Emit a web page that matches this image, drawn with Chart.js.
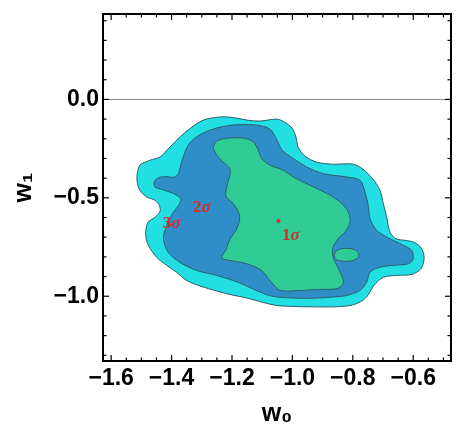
<!DOCTYPE html>
<html>
<head>
<meta charset="utf-8">
<script src="https://cdn.jsdelivr.net/npm/chart.js@4.4.1/dist/chart.umd.min.js"></script>
<style>
  html, body { margin: 0; padding: 0; background: #fff; }
  canvas { display: block; }
</style>
</head>
<body>
<canvas id="contourChart" width="474" height="446"></canvas>
<script>
// tick values
const xMajor = [-1.6, -1.4, -1.2, -1.0, -0.8, -0.6];
const xMinor = [-1.55, -1.5, -1.45, -1.35, -1.3, -1.25, -1.15, -1.1, -1.05, -0.95, -0.9, -0.85, -0.75, -0.7, -0.65, -0.55, -0.5];
const yMajor = [-1.0, -0.5, 0.0];
const yMinor = [-1.3, -1.2, -1.1, -0.9, -0.8, -0.7, -0.6, -0.4, -0.3, -0.2, -0.1, 0.1, 0.2, 0.3, 0.4];

// contour outlines, [w0, w1]
const sigma3Contour = [
  [-1.514,-0.377],[-1.505,-0.334],[-1.472,-0.309],[-1.438,-0.292],[-1.405,-0.241],[-1.372,-0.190],
  [-1.339,-0.148],[-1.295,-0.105],[-1.240,-0.089],[-1.196,-0.092],[-1.151,-0.105],[-1.107,-0.110],
  [-1.052,-0.100],[-1.025,-0.116],[-1.001,-0.146],[-0.988,-0.192],[-0.981,-0.243],[-0.958,-0.289],
  [-0.919,-0.319],[-0.866,-0.329],[-0.799,-0.329],[-0.766,-0.355],[-0.733,-0.406],[-0.710,-0.462],
  [-0.699,-0.529],[-0.688,-0.597],[-0.677,-0.675],[-0.657,-0.708],[-0.627,-0.716],[-0.597,-0.726],
  [-0.572,-0.758],[-0.564,-0.808],[-0.574,-0.859],[-0.604,-0.889],[-0.654,-0.894],[-0.699,-0.904],
  [-0.730,-0.945],[-0.753,-1.001],[-0.776,-1.029],[-0.809,-1.047],[-0.865,-1.054],[-0.931,-1.054],
  [-0.997,-1.052],[-1.052,-1.047],[-1.096,-1.032],[-1.151,-1.009],[-1.207,-0.991],[-1.251,-0.973],
  [-1.306,-0.948],[-1.350,-0.920],[-1.383,-0.879],[-1.416,-0.843],[-1.449,-0.803],[-1.477,-0.741],
  [-1.486,-0.682],[-1.478,-0.624],[-1.455,-0.599],[-1.438,-0.568],[-1.442,-0.533],[-1.458,-0.510],
  [-1.482,-0.496],[-1.505,-0.462],[-1.514,-0.419]
];
const sigma2Contour = [
  [-1.458,-0.431],[-1.455,-0.411],[-1.438,-0.395],[-1.415,-0.393],[-1.392,-0.395],[-1.378,-0.377],
  [-1.367,-0.318],[-1.345,-0.233],[-1.317,-0.190],[-1.273,-0.156],[-1.223,-0.136],[-1.174,-0.128],
  [-1.118,-0.131],[-1.074,-0.151],[-1.051,-0.207],[-1.034,-0.258],[-0.997,-0.300],[-0.953,-0.343],
  [-0.898,-0.377],[-0.820,-0.394],[-0.776,-0.411],[-0.760,-0.470],[-0.749,-0.538],[-0.743,-0.606],
  [-0.721,-0.665],[-0.688,-0.699],[-0.633,-0.741],[-0.605,-0.767],[-0.600,-0.809],[-0.616,-0.835],
  [-0.666,-0.843],[-0.710,-0.852],[-0.743,-0.877],[-0.754,-0.928],[-0.776,-0.970],[-0.820,-0.996],
  [-0.876,-1.005],[-0.931,-1.010],[-0.997,-1.009],[-1.064,-1.001],[-1.107,-0.979],[-1.151,-0.948],
  [-1.196,-0.920],[-1.251,-0.894],[-1.317,-0.869],[-1.372,-0.828],[-1.411,-0.777],[-1.427,-0.707],
  [-1.416,-0.640],[-1.399,-0.584],[-1.379,-0.543],[-1.369,-0.507],[-1.389,-0.482],[-1.428,-0.459],
  [-1.455,-0.446]
];
const sigma1Contour = [
  [-1.262,-0.249],[-1.256,-0.219],[-1.234,-0.202],[-1.196,-0.195],[-1.157,-0.198],[-1.129,-0.216],
  [-1.113,-0.258],[-1.102,-0.300],[-1.074,-0.334],[-1.030,-0.360],[-0.997,-0.394],[-0.942,-0.436],
  [-0.886,-0.478],[-0.842,-0.521],[-0.815,-0.572],[-0.809,-0.623],[-0.826,-0.674],[-0.848,-0.707],
  [-0.865,-0.750],[-0.867,-0.792],[-0.859,-0.826],[-0.842,-0.877],[-0.831,-0.928],[-0.848,-0.959],
  [-0.886,-0.965],[-0.931,-0.967],[-0.986,-0.972],[-1.041,-0.970],[-1.069,-0.930],[-1.102,-0.869],
  [-1.151,-0.835],[-1.207,-0.818],[-1.234,-0.806],[-1.218,-0.758],[-1.213,-0.731],[-1.203,-0.701],
  [-1.187,-0.665],[-1.175,-0.614],[-1.178,-0.574],[-1.197,-0.528],[-1.220,-0.492],[-1.216,-0.436],
  [-1.207,-0.385],[-1.207,-0.351],[-1.229,-0.318],[-1.251,-0.283]
];
const sigma1Island = [
  [-0.862,-0.792],[-0.856,-0.772],[-0.839,-0.759],[-0.816,-0.757],[-0.796,-0.762],[-0.783,-0.777],
  [-0.781,-0.797],[-0.793,-0.815],[-0.816,-0.823],[-0.839,-0.820],[-0.856,-0.813]
];

const bestFit = [-1.046, -0.618];

const sigmaLabels = ['1', '2', '3'];
const sigmaLabelX = [-1.005, -1.300, -1.400];
const sigmaLabelY = [-0.690, -0.551, -0.631];

const red = '#d42a2a';
const edge = '#2d5e6c';

// closed loop for fill:'shape'
function loop(pts) {
  const out = pts.map(p => ({ x: p[0], y: p[1] }));
  out.push({ x: pts[0][0], y: pts[0][1] });
  return out;
}

function region(label, pts, color, order) {
  return {
    type: 'line',
    label: label,
    data: loop(pts),
    backgroundColor: color,
    borderColor: edge,
    borderWidth: 1,
    fill: 'shape',
    tension: 0.3,
    pointRadius: 0,
    order: order
  };
}

const fmt = v => v.toFixed(1).replace('-', '\u2212');

function drawSigmaLabels(ctx, x, y) {
  ctx.fillStyle = red;
  ctx.textBaseline = 'middle';
  ctx.textAlign = 'left';
  const upright = 'bold 17px "Liberation Serif", "Times New Roman", serif';
  const slanted = 'italic bold 17px "Liberation Serif", "Times New Roman", serif';
  sigmaLabels.forEach((d, i) => {
    const px = x.getPixelForValue(sigmaLabelX[i]);
    const py = y.getPixelForValue(sigmaLabelY[i]);
    ctx.font = upright;
    const w1 = ctx.measureText(d).width;
    ctx.font = slanted;
    const w2 = ctx.measureText('\u03c3').width;
    const left = px - (w1 + w2) / 2;
    ctx.font = upright;
    ctx.fillText(d, left, py);
    ctx.font = slanted;
    ctx.fillText('\u03c3', left + w1, py);
  });
}

function drawFrame(ctx, a, x, y) {
  ctx.fillStyle = '#000';
  // inward ticks on all four sides
  xMajor.forEach(v => {
    const p = x.getPixelForValue(v);
    ctx.fillRect(p - 0.6, a.bottom - 6, 1.2, 6);
    ctx.fillRect(p - 0.6, a.top, 1.2, 6);
  });
  xMinor.forEach(v => {
    const p = x.getPixelForValue(v);
    ctx.fillRect(p - 0.6, a.bottom - 3.5, 1.2, 3.5);
    ctx.fillRect(p - 0.6, a.top, 1.2, 3.5);
  });
  yMajor.forEach(v => {
    const p = y.getPixelForValue(v);
    ctx.fillRect(a.left, p - 0.6, 6, 1.2);
    ctx.fillRect(a.right - 6, p - 0.6, 6, 1.2);
  });
  yMinor.forEach(v => {
    const p = y.getPixelForValue(v);
    ctx.fillRect(a.left, p - 0.6, 3.5, 1.2);
    ctx.fillRect(a.right - 3.5, p - 0.6, 3.5, 1.2);
  });
  const w = a.right - a.left, h = a.bottom - a.top;
  ctx.fillRect(a.left - 1, a.top - 1, w + 2, 2);
  ctx.fillRect(a.left - 1, a.bottom - 1, w + 2, 2);
  ctx.fillRect(a.left - 1, a.top - 1, 2, h + 2);
  ctx.fillRect(a.right - 1, a.top - 1, 2, h + 2);
}

const frame = {
  id: 'frame',
  afterDatasetsDraw(chart) {
    const { ctx, chartArea, scales } = chart;
    ctx.save();
    drawSigmaLabels(ctx, scales.x, scales.y);
    drawFrame(ctx, chartArea, scales.x, scales.y);
    ctx.restore();
  }
};

const tickFont = { family: '"Liberation Sans", Arial, sans-serif', size: 23, weight: 'bold' };
const titleFont = { family: '"Liberation Sans", Arial, sans-serif', size: 25, weight: 'bold' };

new Chart(document.getElementById('contourChart'), {
  type: 'scatter',
  data: {
    datasets: [
      {
        label: 'best fit',
        data: [{ x: bestFit[0], y: bestFit[1] }],
        backgroundColor: red,
        borderWidth: 0,
        pointRadius: 2,
        order: 0
      },
      region('1\u03c3 island', sigma1Island, '#2fcc95', 1),
      region('1\u03c3', sigma1Contour, '#2fcc95', 2),
      region('2\u03c3', sigma2Contour, '#2f8dc8', 3),
      region('3\u03c3', sigma3Contour, '#22dfe4', 4)
    ]
  },
  options: {
    responsive: false,
    animation: false,
    layout: { padding: { top: 14, right: 23, left: 0, bottom: 0 } },
    plugins: {
      legend: { display: false },
      tooltip: { enabled: false }
    },
    scales: {
      x: {
        type: 'linear',
        min: -1.627,
        max: -0.475,
        afterBuildTicks: s => { s.ticks = xMajor.map(v => ({ value: v })); },
        afterFit: s => { s.height = 85; },
        grid: { display: false, drawTicks: false },
        border: { display: false },
        ticks: { color: '#000', font: tickFont, padding: 4, maxRotation: 0, callback: fmt },
        title: { display: true, text: 'w\u2080', color: '#000', font: titleFont, padding: { top: 0, bottom: 17 } }
      },
      y: {
        type: 'linear',
        min: -1.329,
        max: 0.434,
        afterBuildTicks: s => { s.ticks = yMajor.map(v => ({ value: v })); },
        afterFit: s => { s.width = 103; s.paddingTop = 0; s.paddingBottom = 0; },
        grid: {
          drawTicks: false,
          color: c => (c.tick && c.tick.value === 0 ? '#8a8a8a' : 'rgba(0,0,0,0)'),
          lineWidth: 1
        },
        border: { display: false },
        ticks: { color: '#000', font: tickFont, padding: 4, callback: fmt },
        title: { display: true, text: 'w\u2081', color: '#000', font: titleFont, padding: { top: 9, bottom: 0 } }
      }
    }
  },
  plugins: [frame]
});
</script>
</body>
</html>
